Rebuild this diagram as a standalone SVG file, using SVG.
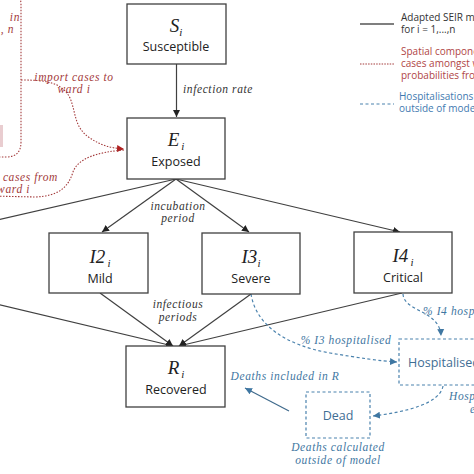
<svg xmlns="http://www.w3.org/2000/svg" width="474" height="474" viewBox="0 0 474 474">
<style>
.box{fill:#fff;stroke:#404040;stroke-width:1.3}
.lbl{font-family:"Open Sans","Liberation Sans",sans-serif;font-size:12.5px;fill:#222}
.c{text-anchor:middle}
.math{font-family:"Liberation Serif","DejaVu Serif",serif;font-style:italic;font-size:19px;fill:#222;text-anchor:middle}
.sub{font-size:11px}
.it{font-family:"Liberation Serif","DejaVu Serif",serif;font-style:italic;font-size:11.5px;fill:#333;letter-spacing:0.6px}
.red{fill:#a33a3b}
.blue{fill:#3f77a2}
.sol{stroke:#404040;stroke-width:1.2;fill:none}
.dot{stroke:#a33a3b;stroke-width:1.1;stroke-dasharray:1.5 1.5;fill:none}
.dash{stroke:#4a82ad;stroke-width:1.2;stroke-dasharray:3 2.5;fill:none}
.leg{font-family:"Open Sans","Liberation Sans",sans-serif;font-size:10px}
</style>
<defs>
<marker id="ab" markerWidth="8" markerHeight="8" refX="7" refY="4" orient="auto" markerUnits="userSpaceOnUse"><path d="M0,0.5 L7,4 L0,7.5 Z" fill="#222"/></marker>
<marker id="ar" markerWidth="8" markerHeight="8" refX="7" refY="4" orient="auto" markerUnits="userSpaceOnUse"><path d="M0,0.5 L7,4 L0,7.5 Z" fill="#b02020"/></marker>
<marker id="au" markerWidth="8" markerHeight="8" refX="7" refY="4" orient="auto" markerUnits="userSpaceOnUse"><path d="M0,0.5 L7,4 L0,7.5 Z" fill="#3f77a2"/></marker>
</defs>
<rect width="474" height="474" fill="#fff"/>

<g id="spatial">
<path class="dot" d="M-100,-10 L6,-10 Q21,-10 21,5 L21,142 Q21,157 6,157 L-100,157"/>
<rect x="-2" y="125" width="5" height="22" fill="#e9cdd0"/>
<text class="it red" x="20" y="21" text-anchor="end">in</text>
<text class="it red" x="14" y="33" text-anchor="end">.., n</text>
</g>

<g id="connectors">
<line class="sol" x1="176.5" y1="64" x2="176.5" y2="117" marker-end="url(#ab)"/>
<line class="sol" x1="176" y1="179" x2="-20" y2="224"/>
<line class="sol" x1="176" y1="179" x2="102" y2="232" marker-end="url(#ab)"/>
<line class="sol" x1="176" y1="179" x2="249" y2="232" marker-end="url(#ab)"/>
<line class="sol" x1="176" y1="179" x2="400" y2="232" marker-end="url(#ab)"/>
<line class="sol" x1="-20" y1="300" x2="173" y2="346" marker-end="url(#ab)"/>
<line class="sol" x1="100" y1="293" x2="173" y2="346" marker-end="url(#ab)"/>
<line class="sol" x1="251" y1="294" x2="179" y2="346" marker-end="url(#ab)"/>
<line class="sol" x1="402" y1="293" x2="179" y2="346" marker-end="url(#ab)"/>
<path class="dot" d="M21,80 C45,80 62,82 70,98 C76,112 74,128 90,138 C100,145 110,148 124,149" marker-end="url(#ar)"/>
<path class="dot" d="M124,150 C98,152 78,158 73,172 C68,188 58,196 35,197 L-10,196"/>
<path class="dash" d="M251,294 C256,325 285,345 330,353 C360,358 380,361 397,362" marker-end="url(#au)"/>
<path class="dash" d="M403,294 C404,312 440,310 441,336" marker-end="url(#au)"/>
<path class="dash" d="M443,386 C440,404 405,412 373,416" marker-end="url(#au)"/>
<line x1="289" y1="411" x2="245" y2="388" stroke="#3f6a8c" stroke-width="1.2" marker-end="url(#au)"/>
</g>

<g id="labels">
<text class="it" x="183" y="93">infection rate</text>
<text class="it red" x="74" y="81" text-anchor="middle">import cases to</text>
<text class="it red" x="74" y="93" text-anchor="middle">ward i</text>
<text class="it red" x="58" y="181" text-anchor="end">t cases from</text>
<text class="it red" x="30" y="193" text-anchor="end">ward i</text>
<text class="it" x="178" y="210" text-anchor="middle">incubation</text>
<text class="it" x="178" y="222" text-anchor="middle">period</text>
<text class="it" x="178" y="308" text-anchor="middle">infectious</text>
<text class="it" x="178" y="321" text-anchor="middle">periods</text>
<text class="it blue" x="346" y="344" text-anchor="middle">% I3 hospitalised</text>
<text class="it blue" x="423" y="315">% I4 hospitalised</text>
<text class="it blue" x="285" y="380" text-anchor="middle">Deaths included in R</text>
<text class="it blue" x="338" y="451" text-anchor="middle">Deaths calculated</text>
<text class="it blue" x="338" y="464" text-anchor="middle">outside of model</text>
<text class="it blue" x="449" y="400">Hospitalised</text>
<text class="it blue" x="470" y="413">e</text>
</g>

<g id="S"><rect class="box" x="127" y="4" width="99" height="60"/><text class="math" x="176" y="32">S<tspan class="sub" dy="4">i</tspan></text><text class="lbl c" x="176" y="51">Susceptible</text></g>
<g id="E"><rect class="box" x="127" y="118" width="98" height="61"/><text class="math" x="176" y="146">E<tspan class="sub" dy="4" dx="2">i</tspan></text><text class="lbl c" x="176" y="166">Exposed</text></g>
<g id="I2"><rect class="box" x="49" y="233" width="99" height="60"/><text class="math" x="100" y="263">I2<tspan class="sub" dy="4" dx="2">i</tspan></text><text class="lbl c" x="100" y="283">Mild</text></g>
<g id="I3"><rect class="box" x="202" y="233" width="98" height="61"/><text class="math" x="251" y="263">I3<tspan class="sub" dy="4">i</tspan></text><text class="lbl c" x="251" y="283">Severe</text></g>
<g id="I4"><rect class="box" x="354" y="232" width="98" height="61"/><text class="math" x="403" y="262">I4<tspan class="sub" dy="4" dx="2">i</tspan></text><text class="lbl c" x="403" y="282">Critical</text></g>
<g id="R"><rect class="box" x="126" y="346" width="99" height="61"/><text class="math" x="176" y="374">R<tspan class="sub" dy="4" dx="2">i</tspan></text><text class="lbl c" x="176" y="394">Recovered</text></g>
<g id="Hospitalised"><rect x="399" y="339" width="100" height="46" fill="#fff" stroke="#4a82ad" stroke-width="1.2" stroke-dasharray="3 2.5"/><text class="lbl" x="408" y="367" style="fill:#3f6e94">Hospitalised</text></g>
<g id="Dead"><rect x="306" y="392" width="64" height="46" fill="#fff" stroke="#4a82ad" stroke-width="1.2" stroke-dasharray="3 2.5"/><text class="lbl c" x="338" y="420" style="fill:#3f6e94">Dead</text></g>

<g id="legend">
<line x1="360" y1="24" x2="394" y2="24" stroke="#555" stroke-width="1.5"/>
<text class="leg" x="401" y="21" fill="#333">Adapted SEIR model</text>
<text class="leg" x="401" y="33" fill="#333">for i = 1,...,n</text>
<line x1="360" y1="64" x2="394" y2="64" stroke="#a33a3b" stroke-width="1" stroke-dasharray="1.5 1.2"/>
<text class="leg" x="401" y="55" fill="#b04546">Spatial component</text>
<text class="leg" x="401" y="67" fill="#b04546">cases amongst wards</text>
<text class="leg" x="401" y="79" fill="#b04546">probabilities from</text>
<line x1="360" y1="104" x2="394" y2="104" stroke="#4a82ad" stroke-width="1.2" stroke-dasharray="3 2.5"/>
<text class="leg" x="399" y="100" fill="#3f7ab0">Hospitalisations and</text>
<text class="leg" x="399" y="112" fill="#3f7ab0">outside of modelling</text>
</g>
</svg>
